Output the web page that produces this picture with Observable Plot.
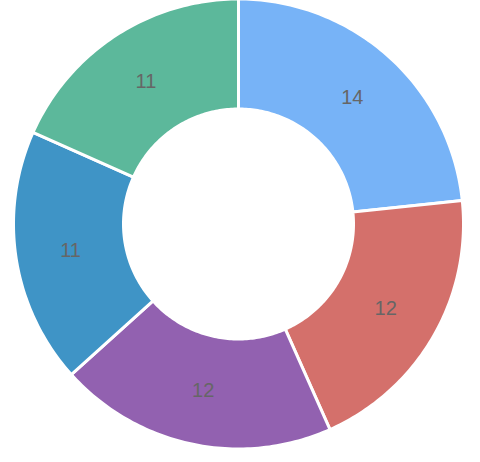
<!DOCTYPE html>
<html>
<head>
<meta charset="utf-8">
<script src="https://cdn.jsdelivr.net/npm/d3@7"></script>
<script src="https://cdn.jsdelivr.net/npm/@observablehq/plot@0.6"></script>
<style>
  html, body { margin: 0; padding: 0; background: #fff; }
  svg { display: block; }
</style>
</head>
<body>
<div id="chart"></div>
<script>
const categories = ["A", "B", "C", "D", "E"];
const values = [14, 12, 12, 11, 11];
const colors = ["#77b3f7", "#d4706b", "#9261b0", "#3f94c6", "#5cb89b"];

const outerR = 225;
const innerR = 115;
const midR = (outerR + innerR) / 2;

const pie = d3.pie().sort(null).value(d => d.value);
const arcs = pie(categories.map((c, i) => ({ key: c, value: values[i] })));

// Build slice outlines from the pie angles (geometry sampling along each arc)
const polys = [];
for (const a of arcs) {
  const n = Math.max(8, Math.ceil((a.endAngle - a.startAngle) * 60));
  for (let j = 0; j <= n; j++) {
    const t = a.startAngle + (a.endAngle - a.startAngle) * j / n;
    polys.push({ key: a.data.key, x: outerR * Math.sin(t), y: -outerR * Math.cos(t) });
  }
  for (let j = n; j >= 0; j--) {
    const t = a.startAngle + (a.endAngle - a.startAngle) * j / n;
    polys.push({ key: a.data.key, x: innerR * Math.sin(t), y: -innerR * Math.cos(t) });
  }
}
const labels = arcs.map(a => {
  const m = (a.startAngle + a.endAngle) / 2;
  return { key: a.data.key, value: a.data.value, x: midR * Math.sin(m), y: -midR * Math.cos(m) };
});

const chart = Plot.plot({
  width: 480,
  height: 462,
  x: { domain: [-238, 242], range: [0, 480], axis: null },
  y: { domain: [-223.5, 238.5], range: [0, 462], axis: null },
  color: { domain: categories, range: colors },
  marks: [
    Plot.line(polys, { x: "x", y: "y", z: "key", fill: "key", stroke: "#fff", strokeWidth: 3, curve: "linear-closed" }),
    Plot.text(labels, { x: "x", y: "y", text: d => String(d.value), fill: "#666", fontSize: 20, fontFamily: "Liberation Sans, Arial, sans-serif" })
  ]
});
document.getElementById("chart").appendChild(chart);
</script>
</body>
</html>
